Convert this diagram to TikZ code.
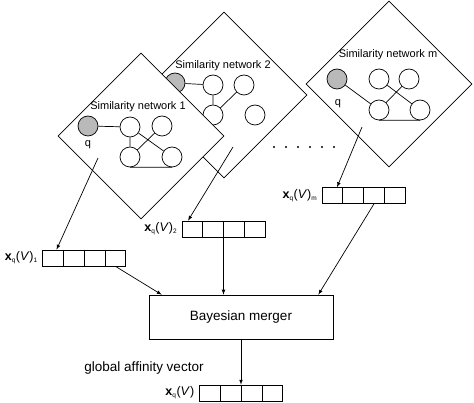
\documentclass[tikz,border=0pt]{standalone}
\usepackage{fontspec}
\setmainfont{Liberation Sans}
\usetikzlibrary{arrows,shapes.geometric,shapes.multipart,positioning,calc}

\begin{document}
\begin{tikzpicture}[x=1pt,y=-1pt,line width=0.7pt]
\tikzstyle{every node}=[font=\fontsize{11}{13}\selectfont]
\tikzstyle{net}=[diamond, draw, fill=white, minimum width=166pt, minimum height=166pt, inner sep=0pt]
\tikzstyle{vtx}=[circle, draw, fill=white, minimum size=20pt, inner sep=0pt]
\tikzstyle{qvtx}=[vtx, fill=gray!55]
\tikzstyle{vec}=[rectangle split, rectangle split horizontal, rectangle split parts=4, draw, inner sep=0pt,
  rectangle split empty part width=15pt, rectangle split empty part height=16pt, rectangle split empty part depth=0pt]
\tikzstyle{big}=[font=\fontsize{13.5}{16}\selectfont]
\tikzstyle{veclab}=[font=\fontsize{12.5}{14}\selectfont, inner sep=1pt]
\tikzstyle{arr}=[-latex]
\newcommand{\xq}[1]{{\bfseries x}\textsubscript{\fontsize{6.5}{7}\selectfont q}(\textit{V})\textsubscript{\fontsize{6.5}{7}\selectfont #1}}
\useasboundingbox (0,0) rectangle (474,403);

% similarity network 2 (behind network 1)
\node[net] (n2) at (224,95) {};
\node at (223,66) {Similarity network 2};
\node[qvtx] (q2) at (175,83) {};
\node[vtx] (a2) at (213,85) {};
\node[vtx] (b2) at (244,85) {};
\node[vtx] (c2) at (213,115) {};
\node[vtx] (d2) at (255,115) {};
\draw (q2) -- (a2) (a2) -- (c2) (b2) -- (c2);

% similarity network 1
\node[net] (n1) at (141,136) {};
\node at (138,107) {Similarity network 1};
\node[qvtx] (q1) at (88,126) {};
\node at (88,145) {q};
\node[vtx] (a1) at (130,127) {};
\node[vtx] (b1) at (162,126) {};
\node[vtx] (c1) at (130,157) {};
\node[vtx] (d1) at (172,157) {};
\draw (q1) -- (a1) (a1) -- (c1) (a1) -- (d1) (b1) -- (c1) (c1.south) -- (d1.south);

% similarity network m
\node[net] (nm) at (389,84) {};
\node at (388,55) {Similarity network m};
\node[qvtx] (qm) at (337,79) {};
\node at (338,104) {q};
\node[vtx] (am) at (379,79) {};
\node[vtx] (bm) at (409,79) {};
\node[vtx] (cm) at (379,110) {};
\node[vtx] (dm) at (420,110) {};
\draw (qm) -- (cm) (am) -- (dm) (bm) -- (cm) (cm.south) -- (dm.south);

\foreach \x in {274,286,...,334}
  \fill (\x,147) circle (1.1pt);

% affinity vectors
\node[vec] (v1) at (84,258) {};
\node[vec] (v2) at (223.5,229) {};
\node[vec] (vm) at (363.5,195.5) {};
\node[veclab, left=3pt of v1] {\xq{1}};
\node[veclab, left=3pt of v2] {\xq{2}};
\node[veclab, left=3pt of vm] {\xq{m}};

\coordinate (s1) at (98,158);
\coordinate (s2) at (233,147);
\coordinate (sm) at (362,127);
\draw[arr] (s1) -- ([xshift=4pt]v1.one north);
\draw[arr] (s2) -- ([xshift=-4pt]v2.one north);
\draw[arr] (sm) -- ([xshift=5pt]vm.one north);

% merger
\node[big, draw, minimum width=184pt, minimum height=44pt] (merger) at (241,317) {Bayesian merger};
\draw[arr] (v1.four south) -- ($(merger.north west)+(13,0)$);
\draw[arr] (v2.two split south) -- (v2.two split south |- merger.north);
\draw[arr] (vm.three south) -- ($(merger.north east)+(-15,0)$);

\node[vec] (vg) at (241,393) {};
\node[veclab, left=3pt of vg] {\xq{}};
\node[big] at (144,368) {global affinity vector};
\draw[arr] (merger.south) -- (vg.two split north);
\end{tikzpicture}
\end{document}
